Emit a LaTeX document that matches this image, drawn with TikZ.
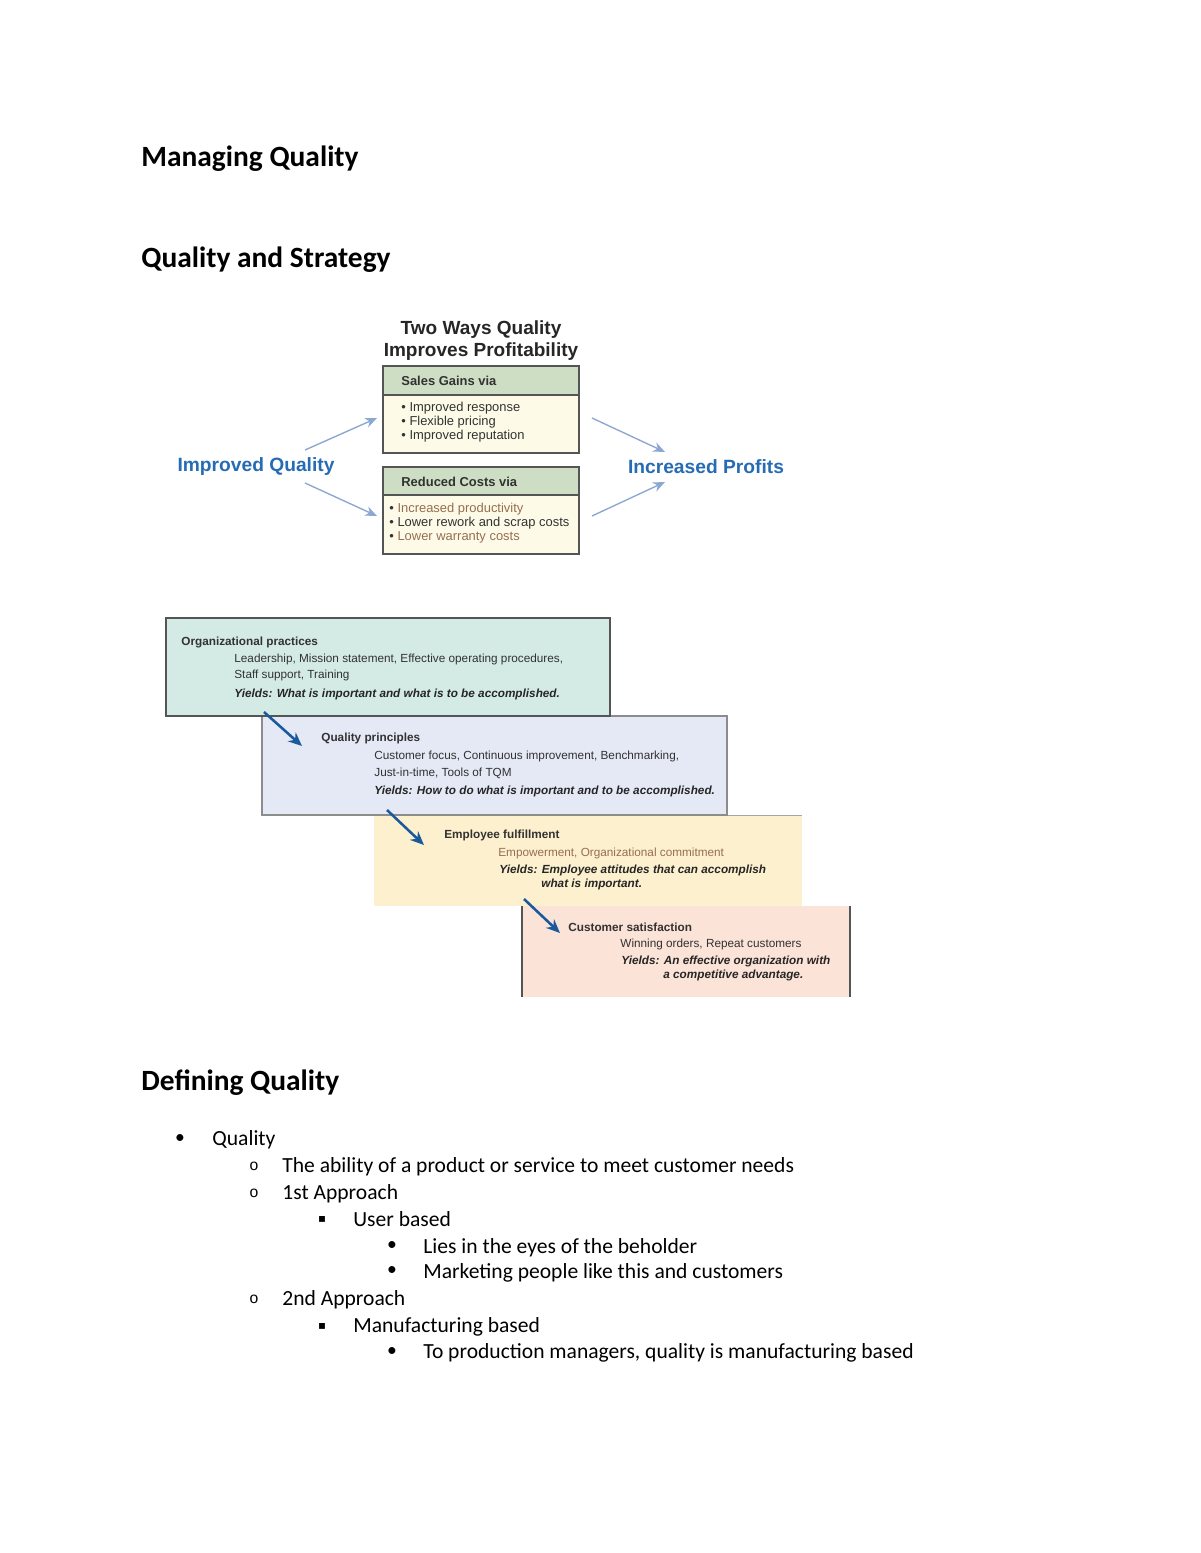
\documentclass[tikz,border=0pt]{standalone}
\usepackage{fontspec}
\setmainfont{Carlito}
\newfontfamily\arial{Liberation Sans}
\newfontfamily\dejavu{DejaVu Sans}
\usetikzlibrary{arrows.meta}
\definecolor{hdrgreen}{RGB}{206,222,196}
\definecolor{cream}{RGB}{253,251,232}
\definecolor{qblue}{RGB}{38,108,180}
\definecolor{lightarrow}{RGB}{140,168,210}
\definecolor{darkarrow}{RGB}{26,90,156}
\definecolor{boxA}{RGB}{212,235,229}
\definecolor{boxB}{RGB}{228,233,245}
\definecolor{boxC}{RGB}{253,240,206}
\definecolor{boxD}{RGB}{251,227,216}
\definecolor{txtgray}{RGB}{50,50,50}
\definecolor{fadebrown}{RGB}{150,110,80}
\definecolor{edge}{RGB}{85,85,85}
\tikzset{
  heading/.style={anchor=base west,inner sep=0pt,font=\bfseries\fontsize{15}{18}\selectfont},
  body/.style={anchor=base west,inner sep=0pt,font=\fontsize{11}{13}\selectfont},
  marker/.style={anchor=base,inner sep=0pt,font=\fontsize{10}{12}\selectfont},
  ttl/.style={align=center,inner sep=0pt,font=\arial\bfseries\fontsize{9.7}{11.2}\selectfont,text=black!85},
  blue label/.style={inner sep=0pt,font=\arial\bfseries\fontsize{9.8}{11}\selectfont,text=qblue},
  boxhead/.style={anchor=west,inner sep=0pt,font=\arial\bfseries\fontsize{6.6}{8}\selectfont,text=txtgray},
  boxitems/.style={anchor=west,align=left,inner sep=0pt,font=\arial\fontsize{6.6}{7.2}\selectfont,text=txtgray},
  soft arrow/.style={draw=lightarrow,line width=0.7pt,-{Stealth[length=6pt,width=5pt]}},
  hard arrow/.style={draw=darkarrow,line width=1.3pt,-{Stealth[length=7pt,width=6pt]}},
  ctitle/.style={anchor=west,inner sep=0pt,font=\arial\bfseries\fontsize{6}{7}\selectfont,text=txtgray},
  ctext/.style={anchor=west,align=left,inner sep=0pt,font=\arial\fontsize{6}{8.6}\selectfont,text=txtgray},
  cyield/.style={anchor=west,align=left,inner sep=0pt,font=\arial\bfseries\itshape\fontsize{6}{7.2}\selectfont,text=black!85},
}
\begin{document}
\begin{tikzpicture}[x=0.51pt,y=-0.51pt]
\useasboundingbox[fill=white] (0,0) rectangle (1200,1553);

% headings
\node[heading] (h1) at (141,167) {Managing Quality};
\node[heading] (h2) at (141,267) {Quality and Strategy};
\node[heading] (h3) at (141,1090) {Defining Quality};

% ---- Two ways diagram ----
\node[ttl] (title) at (481,341) {Two Ways Quality\\Improves Profitability};

\filldraw[fill=hdrgreen,draw=edge,line width=0.8pt] (383,366) rectangle (579,395);
\filldraw[fill=cream,draw=edge,line width=0.8pt] (383,395) rectangle (579,453);
\filldraw[fill=hdrgreen,draw=edge,line width=0.8pt] (383,467) rectangle (579,495);
\filldraw[fill=cream,draw=edge,line width=0.8pt] (383,495) rectangle (579,554);

\node[boxhead] (sales) at (401,381) {Sales Gains via};
\node[boxitems] (salesitems) at (401,422) {\textbullet\ Improved response\\\textbullet\ Flexible pricing\\\textbullet\ Improved reputation};
\node[boxhead] (costs) at (401,482) {Reduced Costs via};
\node[boxitems] (costitems) at (389,523.5) {\textbullet\ {\color{fadebrown}Increased productivity}\\\textbullet\ Lower rework and scrap costs\\\textbullet\ {\color{fadebrown}Lower warranty costs}};

\node[blue label] (iq) at (256,467) {Improved Quality};
\node[blue label] (ip) at (706,467) {Increased Profits};

\coordinate (a1s) at (305,450); \coordinate (a1e) at (377,418);
\coordinate (a2s) at (305,483); \coordinate (a2e) at (377,516);
\coordinate (a3s) at (592,418); \coordinate (a3e) at (665,452);
\coordinate (a4s) at (592,516); \coordinate (a4e) at (665,482);
\draw[soft arrow] (a1s) -- (a1e);
\draw[soft arrow] (a2s) -- (a2e);
\draw[soft arrow] (a3s) -- (a3e);
\draw[soft arrow] (a4s) -- (a4e);

% ---- cascade ----
\fill[boxD] (522,906) rectangle (850,997);
\draw[edge,line width=0.9pt] (522,906) -- (522,997);
\draw[edge,line width=0.9pt] (850,906) -- (850,997);
\fill[boxC] (374,815) rectangle (802,906);
\draw[black!35,line width=0.5pt] (727,815) -- (802,815);
\filldraw[fill=boxB,draw=black!45,line width=0.6pt] (262,716) rectangle (727,815);
\filldraw[fill=boxA,draw=edge,line width=0.9pt] (166,618) rectangle (610,716);

\node[ctitle] (op) at (181,642) {Organizational practices};
\node[ctext] (optext) at (234,667.5) {Leadership, Mission statement, Effective operating procedures,\\Staff support, Training};
\node[cyield] (opy) at (234,694) {Yields: What is important and what is to be accomplished.};

\node[ctitle] (qp) at (321,738) {Quality principles};
\node[ctext] (qptext) at (374,765) {Customer focus, Continuous improvement, Benchmarking,\\Just-in-time, Tools of TQM};
\node[cyield] (qpy) at (374,791) {Yields: How to do what is important and to be accomplished.};

\node[ctitle] (ef) at (444,835) {Employee fulfillment};
\node[ctext,text=fadebrown] (eftext) at (498,853) {Empowerment, Organizational commitment};
\node[cyield] (efy1) at (499,870) {Yields: Employee attitudes that can accomplish};
\node[cyield] (efy2) at (541,884) {what is important.};

\node[ctitle] (cs) at (568,927) {Customer satisfaction};
\node[ctext] (cstext) at (620,944) {Winning orders, Repeat customers};
\node[cyield] (csy1) at (621,961) {Yields: An effective organization with};
\node[cyield] (csy2) at (663,975) {a competitive advantage.};

\coordinate (d1s) at (264,712); \coordinate (d1e) at (302,746);
\coordinate (d2s) at (387,810); \coordinate (d2e) at (424,845);
\coordinate (d3s) at (524,899); \coordinate (d3e) at (560,933);
\draw[hard arrow] (d1s) -- (d1e);
\draw[hard arrow] (d2s) -- (d2e);
\draw[hard arrow] (d3s) -- (d3e);

% ---- list ----
\node[marker] (m1) at (180,1143) {•};
\node[body] (l1) at (212,1145) {Quality};
\node[marker,font=\arial\fontsize{8}{10}\selectfont] (m2) at (254,1170) {o};
\node[body] (l2) at (282,1172) {The ability of a product or service to meet customer needs};
\node[marker,font=\arial\fontsize{8}{10}\selectfont] (m3) at (254,1197) {o};
\node[body] (l3) at (282,1199) {1st Approach};
\node[marker,font=\dejavu\fontsize{6}{8}\selectfont] (m4) at (322,1222) {▪};
\node[body] (l4) at (353,1226) {User based};
\node[marker] (m5) at (392,1250) {•};
\node[body] (l5) at (423,1253) {Lies in the eyes of the beholder};
\node[marker] (m6) at (392,1275) {•};
\node[body] (l6) at (423,1278) {Marketing people like this and customers};
\node[marker,font=\arial\fontsize{8}{10}\selectfont] (m7) at (254,1303) {o};
\node[body] (l7) at (282,1305) {2nd Approach};
\node[marker,font=\dejavu\fontsize{6}{8}\selectfont] (m8) at (322,1329) {▪};
\node[body] (l8) at (353,1332) {Manufacturing based};
\node[marker] (m9) at (392,1356) {•};
\node[body] (l9) at (423,1358) {To production managers, quality is manufacturing based};
\end{tikzpicture}
\end{document}
